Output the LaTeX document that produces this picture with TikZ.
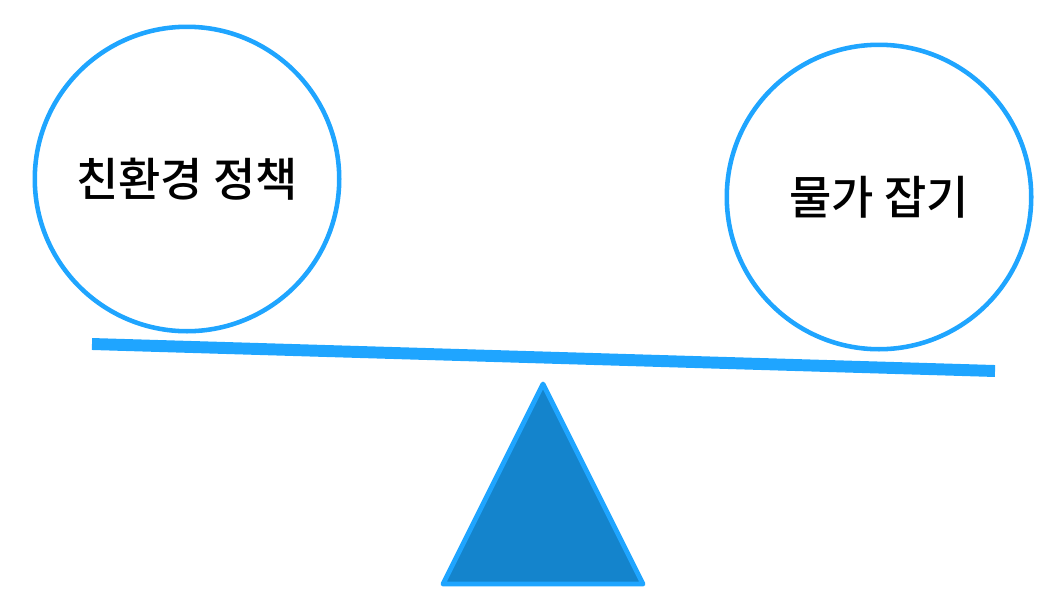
\documentclass[tikz,border=0pt]{standalone}
\usepackage{fontspec}
\setmainfont{Noto Sans CJK KR Medium}
\definecolor{beamblue}{HTML}{1FA5FF}
\definecolor{baseblue}{HTML}{1484CC}
\tikzset{
  pan/.style={draw=beamblue, line width=1.6mm, circle, minimum size=10.7cm, inner sep=0pt, font=\fontsize{46pt}{46pt}\selectfont},
}
\begin{document}
\begin{tikzpicture}[x=1pt,y=-1pt]
\useasboundingbox (0,0) rectangle (1064,610);
\node[pan] (left) at (187,179) {친환경 정책};
\node[pan] (right) at (879,197) {물가 잡기};
\coordinate (beamL) at (92,344);
\coordinate (beamR) at (995,371);
\draw [draw=beamblue, line width=4.2mm] (beamL)--(beamR);
\draw [draw=beamblue, fill=baseblue, line width=1.7mm, line join=round] (543,384)--(643,584)--(443,584)--cycle;
\end{tikzpicture}
\end{document}
